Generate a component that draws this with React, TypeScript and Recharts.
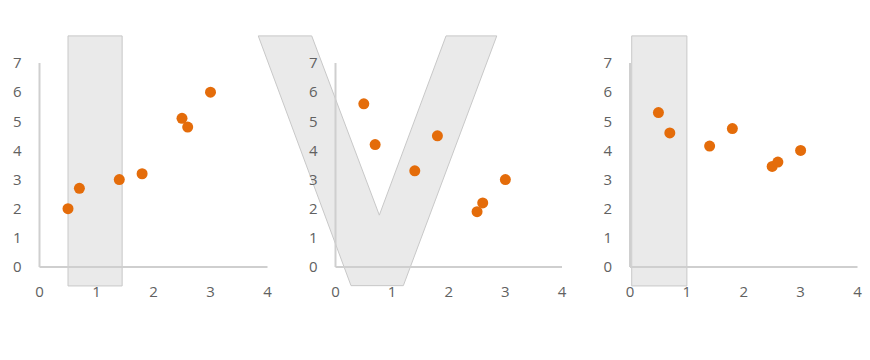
import React from 'react';
import { ScatterChart, Scatter, XAxis, YAxis, ReferenceArea } from 'recharts';

const xTicks = [0, 1, 2, 3, 4];
const yTicks = [0, 1, 2, 3, 4, 5, 6, 7];

const panel1X = [0.5, 0.7, 1.4, 1.8, 2.5, 2.6, 3.0];
const panel1Y = [2.0, 2.7, 3.0, 3.2, 5.1, 4.8, 6.0];
const panel2X = [0.5, 0.7, 1.4, 1.8, 2.5, 2.6, 3.0];
const panel2Y = [5.6, 4.2, 3.3, 4.5, 1.9, 2.2, 3.0];
const panel3X = [0.5, 0.7, 1.4, 1.8, 2.5, 2.6, 3.0];
const panel3Y = [5.3, 4.6, 4.15, 4.75, 3.45, 3.6, 4.0];

// shaded shapes, in data units
const band1 = { x1: 0.5, x2: 1.45, y1: -0.65, y2: 7.93 };
const band3 = { x1: 0.03, x2: 1.0, y1: -0.65, y2: 7.93 };
const vShape: [number, number][] = [
  [-1.364, 7.93],
  [-0.42, 7.93],
  [0.774, 1.78],
  [1.952, 7.93],
  [2.848, 7.93],
  [1.198, -0.64],
  [0.274, -0.64],
];

const ORANGE = '#e46c0a';
const AXIS = '#cfcfcf';
const TEXT = '#616161';
const FONT = 'Open Sans, sans-serif';
const FONT_SIZE = 15;
const SHAPE_FILL = '#d9d9d9';
const SHAPE_OPACITY = 0.55;
const SHAPE_STROKE = '#c8c8c8';

const toPoints = (xs: number[], ys: number[]) => xs.map((x, i) => ({ x, y: ys[i] }));

const Dot = (props: any) => <circle cx={props.cx} cy={props.cy} r={5.5} fill={ORANGE} />;

const vBounds = {
  x1: Math.min(...vShape.map((p) => p[0])),
  x2: Math.max(...vShape.map((p) => p[0])),
  y1: Math.min(...vShape.map((p) => p[1])),
  y2: Math.max(...vShape.map((p) => p[1])),
};

const VShapeRenderer = (props: any) => {
  const { x, y, width, height } = props;
  const pts = vShape
    .map(([vx, vy]) => {
      const px = x + ((vx - vBounds.x1) / (vBounds.x2 - vBounds.x1)) * width;
      const py = y + ((vBounds.y2 - vy) / (vBounds.y2 - vBounds.y1)) * height;
      return `${px},${py}`;
    })
    .join(' ');
  return (
    <polygon
      points={pts}
      fill={SHAPE_FILL}
      fillOpacity={SHAPE_OPACITY}
      stroke={SHAPE_STROKE}
      strokeWidth={1}
    />
  );
};

type PanelProps = {
  left: number;
  width: number;
  plotLeft: number;
  marginRight: number;
  data: { x: number; y: number }[];
  shape: 'band1' | 'v' | 'band3';
};

const H = 330;
const AX_H = 30;
const AX_W = 30;

const Panel = ({ left, width, plotLeft, marginRight, data, shape }: PanelProps) => (
  <div style={{ position: 'absolute', left, top: 0 }}>
    <ScatterChart
      width={width}
      height={H}
      margin={{ top: 63, right: marginRight, bottom: H - 267 - AX_H, left: plotLeft - AX_W }}
    >
      <XAxis
        type="number"
        dataKey="x"
        domain={[0, 4]}
        ticks={xTicks}
        height={AX_H}
        tickLine={false}
        tickSize={0}
        tickMargin={19}
        axisLine={{ stroke: AXIS, strokeWidth: 2 }}
        tick={{ fill: TEXT, fontSize: FONT_SIZE, fontFamily: FONT }}
        interval={0}
      />
      <YAxis
        type="number"
        dataKey="y"
        domain={[0, 7]}
        ticks={yTicks}
        width={AX_W}
        tickLine={false}
        tickSize={0}
        tickMargin={18}
        axisLine={{ stroke: AXIS, strokeWidth: 2 }}
        tick={{ fill: TEXT, fontSize: FONT_SIZE, fontFamily: FONT }}
        interval={0}
      />
      {shape === 'band1' && (
        <ReferenceArea
          x1={band1.x1}
          x2={band1.x2}
          y1={band1.y1}
          y2={band1.y2}
          ifOverflow="visible"
          fill={SHAPE_FILL}
          fillOpacity={SHAPE_OPACITY}
          stroke={SHAPE_STROKE}
          strokeWidth={1}
        />
      )}
      {shape === 'band3' && (
        <ReferenceArea
          x1={band3.x1}
          x2={band3.x2}
          y1={band3.y1}
          y2={band3.y2}
          ifOverflow="visible"
          fill={SHAPE_FILL}
          fillOpacity={SHAPE_OPACITY}
          stroke={SHAPE_STROKE}
          strokeWidth={1}
        />
      )}
      {shape === 'v' && (
        <ReferenceArea
          x1={vBounds.x1}
          x2={vBounds.x2}
          y1={vBounds.y1}
          y2={vBounds.y2}
          ifOverflow="visible"
          shape={VShapeRenderer}
        />
      )}
      <Scatter data={data} shape={Dot} isAnimationActive={false} />
    </ScatterChart>
  </div>
);

export default function App() {
  return (
    <div
      style={{
        position: 'absolute',
        left: 0,
        top: 0,
        width: 870,
        height: 360,
        background: '#ffffff',
        overflow: 'hidden',
      }}
    >
      <Panel left={0} width={290} plotLeft={39.5} marginRight={22.5} data={toPoints(panel1X, panel1Y)} shape="band1" />
      <Panel left={250} width={330} plotLeft={85.5} marginRight={18} data={toPoints(panel2X, panel2Y)} shape="v" />
      <Panel left={590} width={280} plotLeft={40} marginRight={12.5} data={toPoints(panel3X, panel3Y)} shape="band3" />
    </div>
  );
}
